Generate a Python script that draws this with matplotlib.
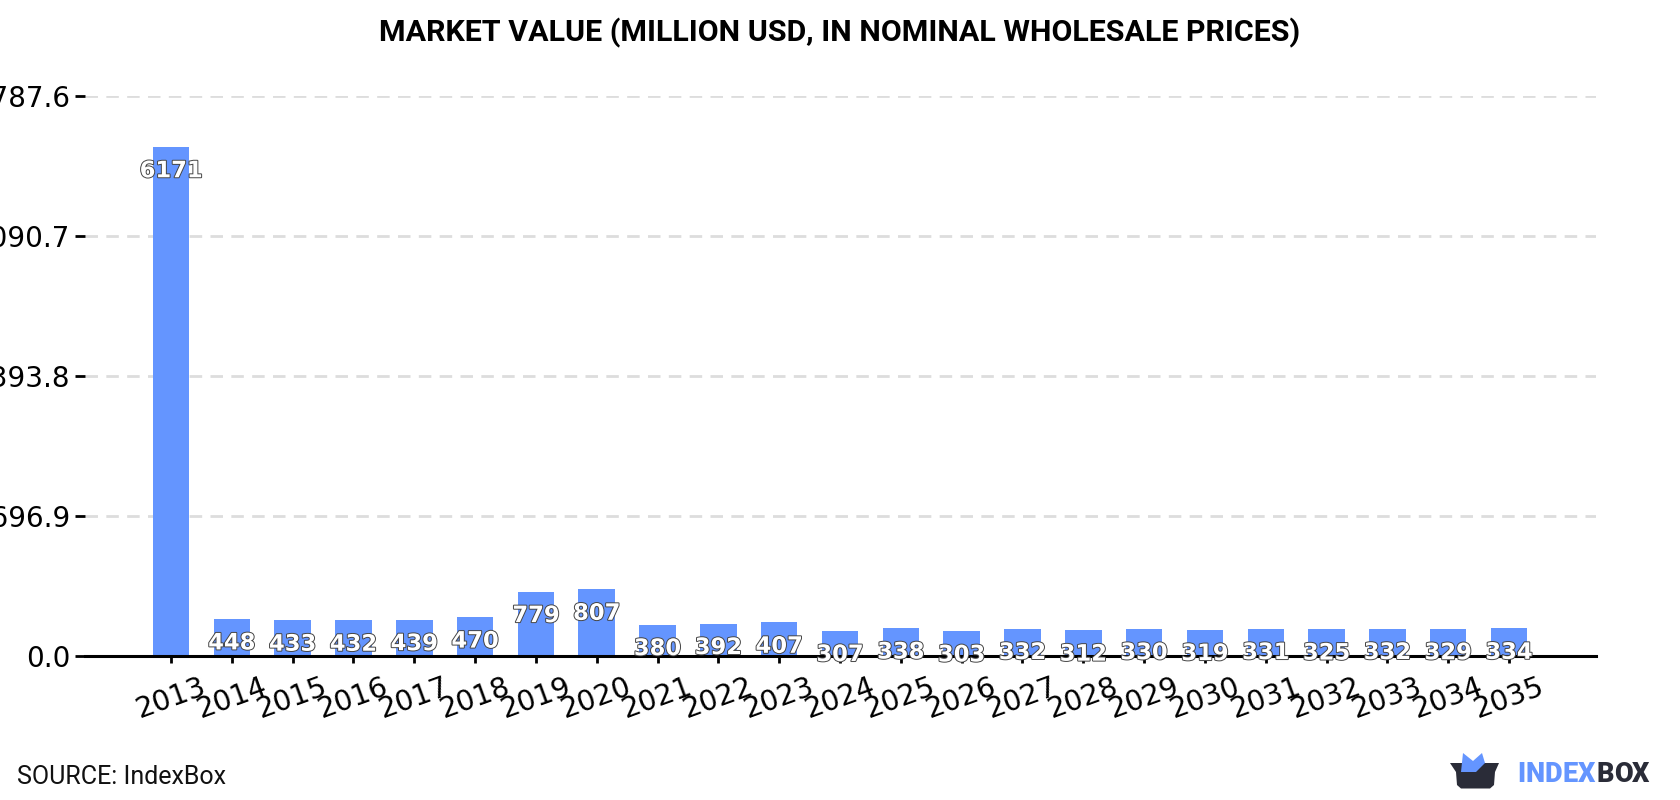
import matplotlib
matplotlib.use("Agg")
import matplotlib.pyplot as plt
import matplotlib.patheffects as pe
from matplotlib.patches import Polygon

years = list(range(2013, 2036))
values = [6171, 448, 433, 432, 439, 470, 779, 807, 380, 392, 407,
          307, 338, 303, 332, 312, 330, 319, 331, 325, 332, 329, 334]
y_ticks = [0.0, 1696.9, 3393.8, 5090.7, 6787.6]

W, H = 1680, 800
BLUE = "#6495ff"
DARK = "#2a2c38"

fig = plt.figure(figsize=(W / 100, H / 100), dpi=100, facecolor="white")
left, right, top, bottom = 85, 1596, 96, 656
ax = fig.add_axes([left / W, 1 - bottom / H, (right - left) / W, (bottom - top) / H])

ax.bar(range(len(years)), values, width=0.6, color=BLUE, zorder=2)
ax.set_xlim(-1.414, 23.43)
ax.set_ylim(0, 6787.6)

ax.set_yticks(y_ticks, [f"{t:.1f}" for t in y_ticks])
ax.set_xticks(range(len(years)), [str(y) for y in years], rotation=20)
ax.tick_params(axis="y", labelsize=20, length=7, width=2, pad=3.5)
ax.tick_params(axis="x", labelsize=20.5, length=5, width=2, pad=7)
ax.yaxis.grid(True, color="#dddddd", linewidth=2, linestyle=(0, (4.5, 3)), zorder=0)
ax.set_axisbelow(True)
for name in ("top", "right", "left"):
    ax.spines[name].set_visible(False)
ax.spines["bottom"].set_linewidth(2.2)
ax.spines["bottom"].set_zorder(3)

# Value labels sit a fixed distance inside the top of each bar
for i, v in enumerate(values):
    ax.annotate(str(v), (i, v), xytext=(0, -17.2), textcoords="offset points",
                ha="center", va="center", fontsize=16.3, fontweight="bold",
                color="white", zorder=5, clip_on=False,
                path_effects=[pe.withStroke(linewidth=1.4, foreground="#444444")])

fig.text(840 / W, 1 - 32.5 / H, "MARKET VALUE (MILLION USD, IN NOMINAL WHOLESALE PRICES)",
         family="Roboto", fontweight="bold", fontsize=21.9, ha="center", va="center", color="black")
fig.text(17 / W, 1 - 776.5 / H, "SOURCE: IndexBox", family="Roboto", fontsize=18,
         ha="left", va="center", color="#111111")


def px(points):
    return [(x / W, 1 - y / H) for x, y in points]


def logo_word(word, x_start, x_end, color):
    """Place a word letter by letter so it fills the given pixel span."""
    renderer = fig.canvas.get_renderer()
    letters = [fig.text(0, 1 - 774 / H, c, family="Roboto", fontweight="black", fontsize=19.5,
                        color=color, ha="left", va="center") for c in word]
    widths = [t.get_window_extent(renderer).width for t in letters]
    gap = (x_end - x_start - sum(widths)) / (len(word) - 1)
    x = x_start
    for t, w in zip(letters, widths):
        t.set_x(x / W)
        x += w + gap


# IndexBox logo: blue crown rising out of a dark box
fig.add_artist(Polygon(px([(1461, 772), (1463, 753), (1473, 761), (1482, 753), (1485, 763),
                           (1476, 772)]), closed=True, transform=fig.transFigure,
                       facecolor=BLUE, edgecolor="none", zorder=3))
fig.add_artist(Polygon(px([(1450, 763), (1499, 763), (1495, 772), (1494, 785), (1490, 788.5),
                           (1461, 788.5), (1457, 785), (1456, 772)]), closed=True,
                       transform=fig.transFigure, facecolor=DARK, edgecolor="none", zorder=2))
logo_word("INDEX", 1517, 1595, BLUE)
logo_word("BOX", 1597, 1649, DARK)

fig.savefig("out.png", dpi=100)
